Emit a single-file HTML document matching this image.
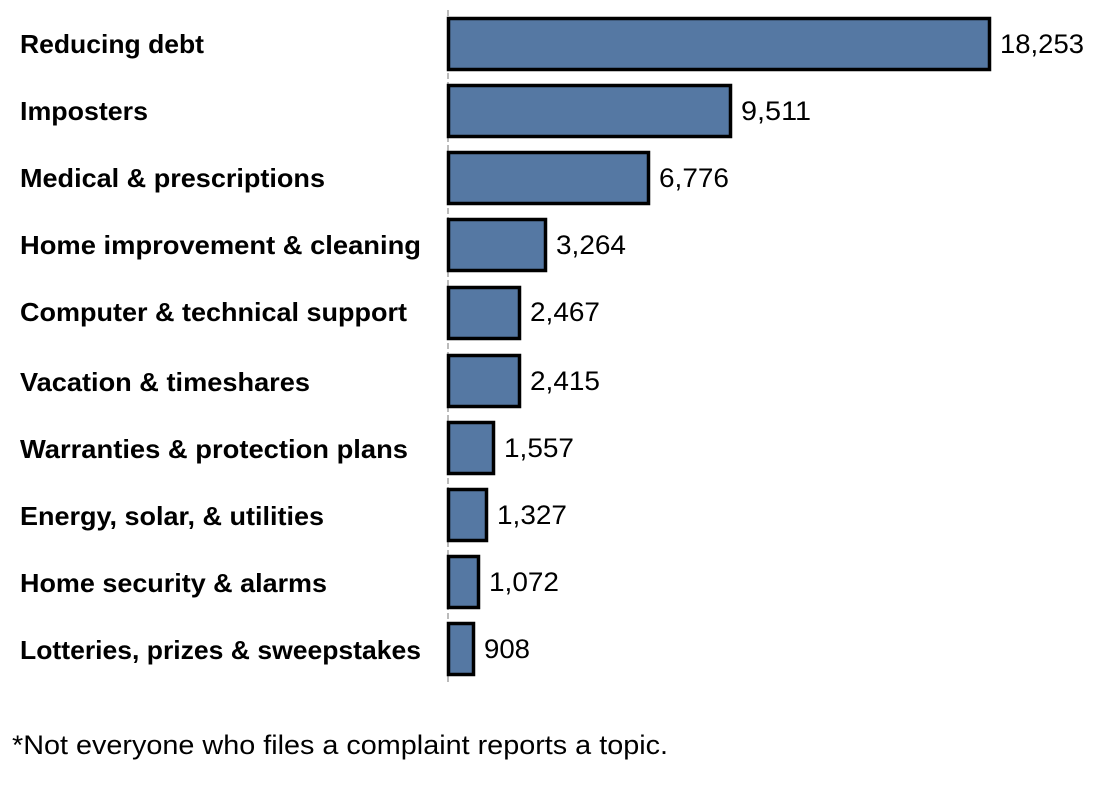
<!DOCTYPE html>
<html><head><meta charset="utf-8"><style>
body{margin:0;background:#fff}
svg{display:block}
.l{font:bold 26px "Liberation Sans",sans-serif;fill:#000}
.v{font:27px "Liberation Sans",sans-serif;fill:#000}
</style></head><body>
<svg width="1102" height="789" xmlns="http://www.w3.org/2000/svg">
<line x1="448" y1="10" x2="448" y2="682" stroke="#bbb" stroke-width="2" stroke-dasharray="6,3"/>
<g fill="#5578a3" stroke="#000" stroke-width="3.5">
<rect x="448.5" y="18.5" width="541" height="51"/>
<rect x="448.5" y="85.5" width="282" height="51"/>
<rect x="448.5" y="152.5" width="200" height="51"/>
<rect x="448.5" y="219.5" width="97" height="51"/>
<rect x="448.5" y="287.5" width="71" height="51"/>
<rect x="448.5" y="355.5" width="71" height="51"/>
<rect x="448.5" y="422.5" width="45" height="51"/>
<rect x="448.5" y="489.5" width="38" height="51"/>
<rect x="448.5" y="556.5" width="30" height="51"/>
<rect x="448.5" y="623.5" width="25" height="51"/>
</g>
<g class="l">
<text x="20" y="53" textLength="184" lengthAdjust="spacingAndGlyphs">Reducing debt</text>
<text x="20" y="120" textLength="128" lengthAdjust="spacingAndGlyphs">Imposters</text>
<text x="20" y="187" textLength="305" lengthAdjust="spacingAndGlyphs">Medical &amp; prescriptions</text>
<text x="20" y="254" textLength="401" lengthAdjust="spacingAndGlyphs">Home improvement &amp; cleaning</text>
<text x="20" y="321" textLength="387" lengthAdjust="spacingAndGlyphs">Computer &amp; technical support</text>
<text x="20" y="391" textLength="290" lengthAdjust="spacingAndGlyphs">Vacation &amp; timeshares</text>
<text x="20" y="458" textLength="388" lengthAdjust="spacingAndGlyphs">Warranties &amp; protection plans</text>
<text x="20" y="525" textLength="304" lengthAdjust="spacingAndGlyphs">Energy, solar, &amp; utilities</text>
<text x="20" y="592" textLength="307" lengthAdjust="spacingAndGlyphs">Home security &amp; alarms</text>
<text x="20" y="659" textLength="401" lengthAdjust="spacingAndGlyphs">Lotteries, prizes &amp; sweepstakes</text>
</g>
<g class="v">
<text x="1000" y="53" textLength="84" lengthAdjust="spacingAndGlyphs">18,253</text>
<text x="741" y="120" textLength="70" lengthAdjust="spacingAndGlyphs">9,511</text>
<text x="659" y="187" textLength="70" lengthAdjust="spacingAndGlyphs">6,776</text>
<text x="556" y="254" textLength="70" lengthAdjust="spacingAndGlyphs">3,264</text>
<text x="530" y="321" textLength="70" lengthAdjust="spacingAndGlyphs">2,467</text>
<text x="530" y="390" textLength="70" lengthAdjust="spacingAndGlyphs">2,415</text>
<text x="504" y="457" textLength="70" lengthAdjust="spacingAndGlyphs">1,557</text>
<text x="497" y="524" textLength="70" lengthAdjust="spacingAndGlyphs">1,327</text>
<text x="489" y="591" textLength="70" lengthAdjust="spacingAndGlyphs">1,072</text>
<text x="484" y="658" textLength="46" lengthAdjust="spacingAndGlyphs">908</text>
</g>
<text x="12" y="754" class="v" textLength="656" lengthAdjust="spacingAndGlyphs">*Not everyone who files a complaint reports a topic.</text>
</svg>
</body></html>
